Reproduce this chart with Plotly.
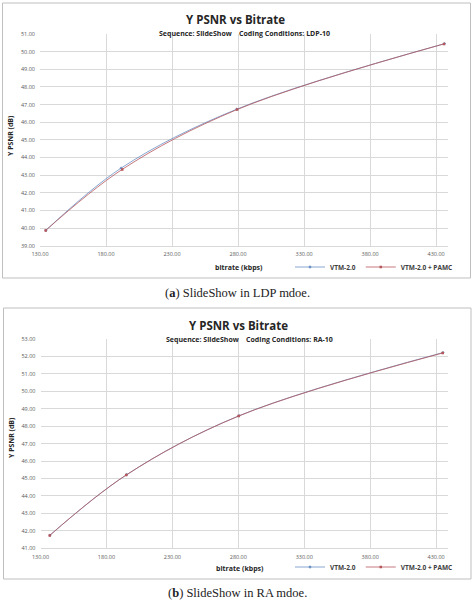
import plotly.graph_objects as go

# RD points (bitrate kbps, Y PSNR dB)
ldp_vtm_rate = [134.5, 191.4, 279.0, 436.3]
ldp_vtm_psnr = [39.88, 43.40, 46.74, 50.45]
ldp_pamc_rate = [134.3, 192.3, 279.3, 436.0]
ldp_pamc_psnr = [39.87, 43.33, 46.72, 50.44]

ra_vtm_rate = [137.2, 195.3, 280.6, 435.2]
ra_vtm_psnr = [41.75, 45.22, 48.60, 52.22]
ra_pamc_rate = [137.0, 195.0, 280.2, 435.0]
ra_pamc_psnr = [41.74, 45.20, 48.58, 52.20]

x_ticks = [130, 180, 230, 280, 330, 380, 430]
ldp_y_ticks = list(range(39, 52))
ra_y_ticks = list(range(41, 54))

W, H = 474, 603
FONT = "Open Sans"
BLUE = "#6A8FC4"
RED = "#B5565A"
GRID = "#D9D9D9"


def px(x):
    return x / W


def py(y):
    return 1 - y / H


fig = go.Figure()

def add_pair(rate_a, psnr_a, rate_b, psnr_b, xa, ya, legend):
    fig.add_trace(go.Scatter(
        x=rate_a, y=psnr_a, name="VTM-2.0", mode="lines+markers",
        line=dict(color=BLUE, width=0.8, shape="spline"),
        marker=dict(size=2.5, color=BLUE, symbol="diamond"),
        xaxis=xa, yaxis=ya, legend=legend))
    fig.add_trace(go.Scatter(
        x=rate_b, y=psnr_b, name="VTM-2.0 + PAMC", mode="lines+markers",
        line=dict(color=RED, width=0.8, shape="spline"),
        marker=dict(size=2.5, color=RED, symbol="square"),
        xaxis=xa, yaxis=ya, legend=legend))

add_pair(ldp_vtm_rate, ldp_vtm_psnr, ldp_pamc_rate, ldp_pamc_psnr, "x", "y", "legend")
add_pair(ra_vtm_rate, ra_vtm_psnr, ra_pamc_rate, ra_pamc_psnr, "x2", "y2", "legend2")

tick_font = dict(family=FONT, size=5.5, color="#595959")

def xaxis(domain, anchor):
    return dict(domain=domain, anchor=anchor, range=[130, 439],
                tickvals=x_ticks, tickformat=".2f", tickfont=tick_font,
                showgrid=True, gridcolor=GRID, gridwidth=1,
                showline=True, linecolor=GRID, zeroline=False, ticks="",
                ticklabelstandoff=3, automargin=False)

def yaxis(domain, anchor, ticks):
    return dict(domain=domain, anchor=anchor, range=[ticks[0], ticks[-1]],
                tickvals=ticks, tickformat=".2f", tickfont=tick_font,
                showgrid=True, gridcolor=GRID, gridwidth=1,
                showline=False, zeroline=False, ticks="",
                ticklabelstandoff=4, automargin=False)

legend_font = dict(family=FONT, size=6.5, color="#404040", weight="bold")

fig.update_layout(
    width=W, height=H,
    margin=dict(l=0, r=0, t=0, b=0),
    paper_bgcolor="white", plot_bgcolor="white",
    xaxis=xaxis([px(40), px(448)], "y"),
    yaxis=yaxis([py(245.8), py(34)], "x", ldp_y_ticks),
    xaxis2=xaxis([px(40.5), px(448)], "y2"),
    yaxis2=yaxis([py(548.3), py(339)], "x2", ra_y_ticks),
    legend=dict(orientation="h", x=px(458), y=py(267), xanchor="right", yanchor="middle",
                font=legend_font, bgcolor="rgba(0,0,0,0)", itemwidth=30,
                tracegroupgap=0),
    legend2=dict(orientation="h", x=px(458), y=py(567), xanchor="right", yanchor="middle",
                 font=legend_font, bgcolor="rgba(0,0,0,0)", itemwidth=30,
                 tracegroupgap=0),
    shapes=[
        dict(type="rect", xref="paper", yref="paper", x0=px(2.5), x1=px(470.5),
             y0=py(278), y1=py(3), line=dict(color="#BFBFBF", width=1)),
        dict(type="rect", xref="paper", yref="paper", x0=px(3.5), x1=px(471),
             y0=py(579), y1=py(308), line=dict(color="#BFBFBF", width=1)),
    ],
)

def ann(text, x, y, size, angle=0, bold=True, family=FONT, color="#262626"):
    fig.add_annotation(text=text, x=px(x), y=py(y), xref="paper", yref="paper",
                       showarrow=False, textangle=angle,
                       font=dict(family=family, size=size, color=color,
                                 weight="bold" if bold else "normal"),
                       xanchor="center", yanchor="middle")

# chart (a)
ann("Y PSNR vs Bitrate", 235, 20, 11.5)
ann("Sequence: SlideShow    Coding Conditions: LDP-10", 244, 34, 7)
ann("bitrate (kbps)", 239, 267, 7)
ann("Y PSNR (dB)", 11, 136, 7, angle=-90)
ann("(<b>a</b>) SlideShow in LDP mdoe.", 237, 293, 12.5, bold=False,
    family="Liberation Serif", color="#222222")

# chart (b)
ann("Y PSNR vs Bitrate", 239, 325, 11.5)
ann("Sequence: SlideShow    Coding Conditions: RA-10", 249, 339, 7)
ann("bitrate (kbps)", 240, 568, 7)
ann("Y PSNR (dB)", 11, 438, 7, angle=-90)
ann("(<b>b</b>) SlideShow in RA mdoe.", 237, 593, 12.5, bold=False,
    family="Liberation Serif", color="#222222")

# the page body has an 8px default margin; drop it so the figure sits at 0,0
fig.write_html("out.html", config={"displayModeBar": False},
               post_script="document.body.style.margin='0';document.body.style.overflow='hidden';")
